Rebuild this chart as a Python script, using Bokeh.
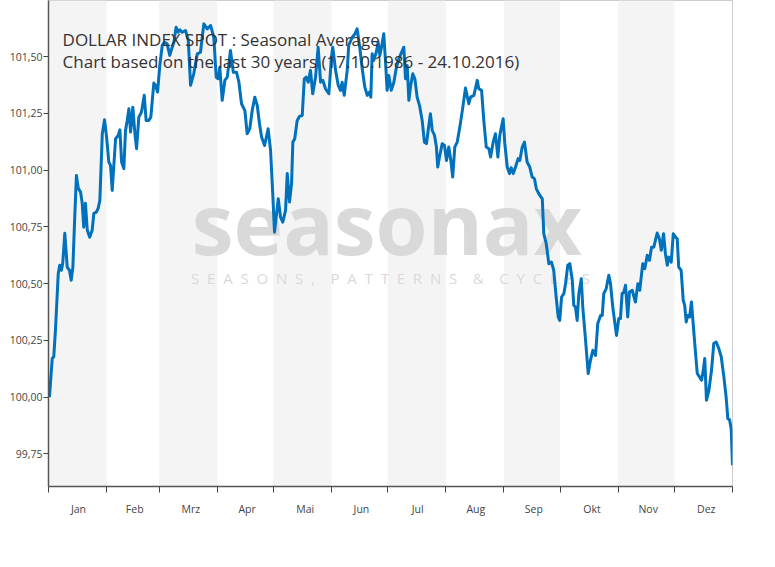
from bokeh.plotting import figure
from bokeh.models import (ColumnDataSource, FixedTicker, CustomJSTickFormatter,
                          BoxAnnotation, Label, Range1d)
from bokeh.embed import file_html
from bokeh.resources import INLINE

# ---------------- data ----------------
title_line1 = "DOLLAR INDEX SPOT : Seasonal Average"
title_line2 = "Chart based on the last 30 years (17.10.1986 - 24.10.2016)"

month_labels = ["Jan", "Feb", "Mrz", "Apr", "Mai", "Jun",
                "Jul", "Aug", "Sep", "Okt", "Nov", "Dez"]
month_starts = [0, 31, 59, 90, 120, 151, 181, 212, 243, 273, 304, 334, 365]
month_label_days = [16, 46, 76, 106, 137, 167, 197, 228, 259, 290, 320, 351]

y_ticks = [99.75, 100.00, 100.25, 100.50, 100.75, 101.00, 101.25, 101.50]

days = [
    0.5, 2.0, 2.8, 3.7, 5.2, 6.0, 6.9, 7.6, 8.7, 10.0, 11.2, 12.1, 13.0, 14.0,
    14.9, 15.9, 17.1, 18.0, 18.8, 19.7, 20.7, 22.0, 23.3, 24.2, 25.5, 26.5,
    27.4, 28.7, 29.9, 31.0, 32.2, 33.1, 34.0, 34.8, 35.8, 37.2, 38.1, 39.0,
    40.2, 41.1, 42.0, 42.9, 43.8, 45.0, 46.1, 47.0, 48.2, 49.6, 51.1, 52.1,
    53.5, 54.6, 56.2, 57.1, 58.2, 59.4, 60.7, 61.9, 63.3, 64.7, 66.0, 66.9,
    68.1, 69.2, 70.1, 71.3, 73.1, 74.6, 75.8, 77.5, 79.4, 81.1, 82.9, 84.7,
    86.5, 88.2, 89.5, 90.6, 91.4, 92.7, 94.1, 95.4, 97.1, 98.6, 100.3, 101.6,
    103.0, 104.8, 106.0, 107.4, 108.7, 110.1, 111.4, 112.6, 113.7, 115.3,
    117.2, 118.5, 119.7, 120.6, 121.5, 122.6, 123.8, 125.0, 126.5, 127.4,
    128.6, 129.7, 130.4, 131.4, 132.7, 133.9, 135.4, 136.5, 137.5, 138.6,
    139.8, 141.0, 142.5, 143.9, 145.2, 146.4, 147.8, 149.6, 151.0, 151.7,
    153.2, 154.6, 155.8, 156.7, 157.8, 159.4, 160.2, 162.1, 163.5, 164.7,
    166.1, 167.4, 168.8, 170.1, 171.3, 172.0, 172.7, 173.6, 174.9, 175.9,
    176.8, 177.7, 178.9, 179.8, 180.7, 181.6, 182.9, 184.3, 185.5, 186.9,
    188.4, 189.6, 190.5, 191.4, 192.3, 193.3, 194.4, 195.5, 196.7, 198.0,
    199.4, 200.6, 201.7, 202.6, 203.8, 204.8, 206.0, 207.0, 207.7, 208.8,
    210.1, 211.3, 212.4, 213.6, 214.7, 215.7, 216.8, 218.1, 219.5, 221.1,
    222.5, 224.3, 225.2, 227.0, 228.8, 229.6, 231.1, 232.3, 233.6, 235.0,
    235.9, 237.3, 238.5, 239.8, 240.8, 242.6, 243.5, 244.8, 246.0, 246.9,
    248.0, 249.2, 250.6, 251.5, 252.8, 254.0, 255.4, 256.8, 258.1, 259.3,
    260.3, 261.6, 263.5, 264.3, 265.6, 267.0, 268.4, 269.6, 270.9, 272.0,
    272.8, 273.8, 275.0, 275.9, 277.1, 278.2, 279.5, 280.3, 281.2, 282.1,
    283.0, 284.3, 285.1, 286.6, 288.0, 289.2, 290.5, 291.9, 293.1, 294.6,
    295.5, 296.3, 297.6, 299.0, 299.9, 301.1, 303.1, 304.3, 305.2, 306.1,
    307.0, 307.9, 309.1, 310.0, 311.5, 313.2, 314.5, 315.5, 317.1, 318.2,
    319.5, 320.7, 321.8, 323.0, 324.8, 326.0, 327.0, 328.2, 329.2, 330.2,
    331.0, 332.3, 333.4, 334.6, 335.5, 336.3, 337.6, 338.7, 339.5, 340.3,
    341.1, 342.1, 343.1, 344.3, 345.3, 346.2, 347.4, 348.5, 349.4, 350.2,
    351.1, 352.4, 353.8, 355.0, 356.3, 357.7, 359.0, 360.4, 361.6, 362.5,
    363.4, 364.3, 365.0,
]

index_values = [
    100.000, 100.171, 100.177, 100.294, 100.545, 100.581, 100.559, 100.590,
    100.722, 100.572, 100.559, 100.515, 100.572, 100.793, 100.977, 100.920,
    100.904, 100.854, 100.749, 100.854, 100.735, 100.705, 100.735, 100.810,
    100.815, 100.832, 100.867, 101.161, 101.222, 101.146, 101.036, 101.021,
    100.911, 101.014, 101.139, 101.153, 101.178, 101.036, 101.007, 101.175,
    101.219, 101.271, 101.168, 101.278, 101.161, 101.095, 101.234, 101.256,
    101.330, 101.219, 101.219, 101.234, 101.384, 101.374, 101.344, 101.462,
    101.550, 101.564, 101.557, 101.506, 101.542, 101.564, 101.630, 101.608,
    101.619, 101.608, 101.616, 101.572, 101.374, 101.425, 101.513, 101.520,
    101.645, 101.623, 101.638, 101.586, 101.410, 101.403, 101.454, 101.308,
    101.396, 101.410, 101.528, 101.432, 101.432, 101.388, 101.293, 101.263,
    101.161, 101.183, 101.263, 101.322, 101.285, 101.205, 101.146, 101.109,
    101.183, 101.087, 100.889, 100.727, 100.793, 100.874, 100.793, 100.771,
    100.823, 100.985, 100.860, 100.941, 101.124, 101.139, 101.219, 101.237,
    101.241, 101.403, 101.410, 101.388, 101.440, 101.337, 101.410, 101.542,
    101.388, 101.396, 101.359, 101.337, 101.498, 101.542, 101.440, 101.374,
    101.352, 101.388, 101.330, 101.440, 101.550, 101.586, 101.601, 101.623,
    101.542, 101.447, 101.366, 101.330, 101.344, 101.322, 101.513, 101.484,
    101.520, 101.564, 101.506, 101.542, 101.601, 101.484, 101.352, 101.418,
    101.352, 101.388, 101.447, 101.491, 101.520, 101.542, 101.403, 101.462,
    101.308, 101.374, 101.425, 101.403, 101.322, 101.285, 101.219, 101.124,
    101.117, 101.175, 101.249, 101.175, 101.153, 101.102, 101.014, 101.065,
    101.117, 101.109, 101.043, 101.102, 101.043, 100.970, 101.102, 101.124,
    101.190, 101.278, 101.362, 101.293, 101.322, 101.330, 101.396, 101.359,
    101.352, 101.219, 101.102, 101.095, 101.058, 101.124, 101.161, 101.058,
    101.153, 101.227, 101.117, 101.014, 100.985, 101.011, 100.985, 101.014,
    101.051, 101.043, 101.102, 101.124, 101.036, 101.014, 100.970, 100.963,
    100.919, 100.897, 100.874, 100.720, 100.676, 100.588, 100.595, 100.559,
    100.441, 100.353, 100.338, 100.441, 100.456, 100.500, 100.581, 100.588,
    100.515, 100.404, 100.397, 100.338, 100.456, 100.522, 100.397, 100.250,
    100.104, 100.162, 100.206, 100.184, 100.324, 100.360, 100.360, 100.456,
    100.478, 100.537, 100.500, 100.397, 100.272, 100.346, 100.346, 100.456,
    100.463, 100.493, 100.353, 100.463, 100.471, 100.419, 100.500, 100.471,
    100.588, 100.566, 100.625, 100.603, 100.661, 100.661, 100.723, 100.698,
    100.647, 100.720, 100.632, 100.581, 100.617, 100.595, 100.720, 100.705,
    100.698, 100.573, 100.559, 100.427, 100.404, 100.331, 100.360, 100.353,
    100.419, 100.294, 100.192, 100.104, 100.089, 100.074, 100.118, 100.170,
    99.986, 100.030, 100.118, 100.236, 100.243, 100.214, 100.177, 100.089,
    100.000, 99.905, 99.901, 99.861, 99.700,
]

# ---------------- figure ----------------
FONT = "Open Sans"

p = figure(width=760, height=526, output_backend="svg", toolbar_location=None,
           x_range=Range1d(0, 365), y_range=Range1d(99.606, 101.748),
           min_border_left=48, min_border_right=28, min_border_top=0,
           min_border_bottom=40)
p.background_fill_color = "white"
p.border_fill_color = "white"
p.outline_line_color = "#cccccc"
p.outline_line_width = 1
p.xgrid.visible = False
p.ygrid.visible = False

# alternating month bands
for i in range(0, 12, 2):
    p.add_layout(BoxAnnotation(left=month_starts[i], right=month_starts[i + 1],
                               fill_color="#f4f4f4", fill_alpha=1.0,
                               line_alpha=0, level="underlay"))

# watermark
p.add_layout(Label(x=180.6, y=100.770, text="seasonax", text_align="center",
                   text_baseline="alphabetic", text_font=FONT,
                   text_font_size="84px", text_color="#d9d9d9",
                   text_font_style="bold", level="underlay"))
NB = "\u00a0"
sub = (NB * 4).join((NB * 2).join(w) for w in ["SEASONS,", "PATTERNS", "&", "CYCLES"])
p.add_layout(Label(x=182.5, y=100.523, text=sub, text_align="center",
                   text_baseline="alphabetic", text_font=FONT,
                   text_font_size="15px", text_color="#d9d9d9",
                   level="underlay"))

# series
src = ColumnDataSource(dict(day=days, value=index_values))
p.line("day", "value", source=src, line_color="#0071bc", line_width=3,
       line_join="round")

# title
p.add_layout(Label(x=7.5, y=101.577, text=title_line1, text_font=FONT,
                   text_font_size="17px", text_color="#333333",
                   text_baseline="alphabetic"))
p.add_layout(Label(x=7.5, y=101.478, text=title_line2, text_font=FONT,
                   text_font_size="17px", text_color="#333333",
                   text_baseline="alphabetic"))

# x axis
xa = p.xaxis[0]
xa.ticker = FixedTicker(ticks=month_label_days, minor_ticks=month_starts)
xa.major_label_overrides = {m: lab for m, lab in zip(month_label_days, month_labels)}
xa.major_tick_out = 0
xa.major_tick_in = 0
xa.minor_tick_out = 6
xa.minor_tick_in = 0
xa.minor_tick_line_color = "#444444"
xa.axis_line_color = "#555555"
xa.axis_line_width = 1.5
xa.major_label_standoff = 9
xa.major_label_text_font = FONT
xa.major_label_text_font_size = "10.5px"
xa.major_label_text_color = "#444444"

# y axis
ya = p.yaxis[0]
ya.ticker = FixedTicker(ticks=y_ticks, minor_ticks=[])
ya.formatter = CustomJSTickFormatter(code="return tick.toFixed(2).replace('.', ',');")
ya.major_tick_out = 5
ya.major_tick_in = 0
ya.major_tick_line_color = "#444444"
ya.axis_line_color = "#555555"
ya.axis_line_width = 1.5
ya.major_label_standoff = 1
ya.major_label_text_font = FONT
ya.major_label_text_font_size = "10.5px"
ya.major_label_text_color = "#444444"

open("out.html", "w").write(file_html(p, INLINE))
